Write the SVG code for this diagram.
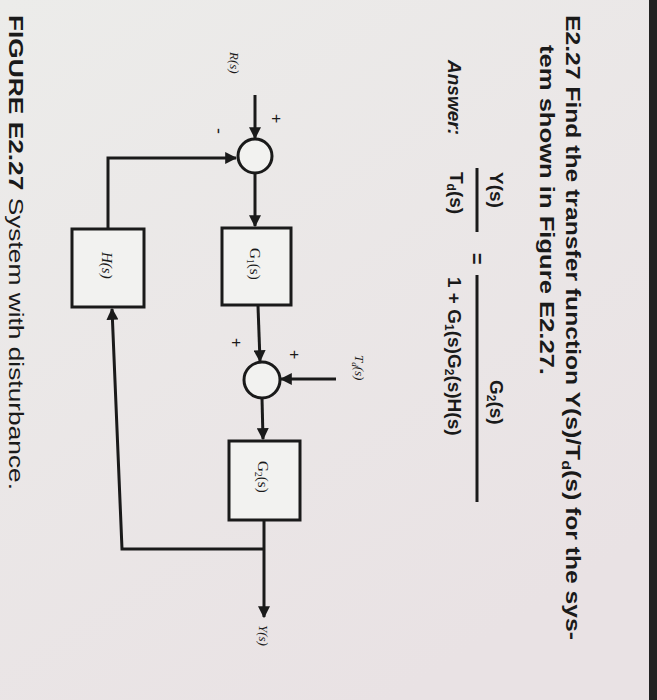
<svg xmlns="http://www.w3.org/2000/svg" width="657" height="700" viewBox="0 0 657 700">
<defs>
<style>
.t{font-family:"Liberation Sans",Arial,sans-serif;fill:#1a1a1a}
.s{font-family:"Liberation Serif","Times New Roman",serif;fill:#1a1a1a}
.ln{stroke:#1a1a1a;stroke-width:3;fill:none}
.bx{stroke:#1a1a1a;stroke-width:3;fill:#f2f2f0}
</style>
<marker id="a" viewBox="0 0 10 10" refX="9" refY="5" markerWidth="4" markerHeight="4" orient="auto"><path d="M0,0L10,5L0,10z" fill="#1a1a1a"/></marker>
<linearGradient id="bg" x1="0" y1="0" x2="0.6" y2="1"><stop offset="0" stop-color="#ececea"/><stop offset="1" stop-color="#e9e2e4"/></linearGradient>
</defs>
<rect width="657" height="700" fill="url(#bg)"/>
<rect x="649" y="0" width="8" height="700" fill="#222"/>
<g id="title">
<text class="t" font-weight="bold" font-size="20" transform="translate(566,15) rotate(90)" textLength="625" lengthAdjust="spacingAndGlyphs">E2.27  Find the transfer function Y(s)/T<tspan font-size="13" dy="4">d</tspan><tspan dy="-4">(s) for the sys-</tspan></text>
<text class="t" font-weight="bold" font-size="20" transform="translate(540,45) rotate(90)" textLength="330" lengthAdjust="spacingAndGlyphs">tem shown in Figure E2.27.</text>
</g>
<g id="answer">
<text class="t" font-weight="bold" font-style="italic" font-size="19" transform="translate(448,60) rotate(90)">Answer:</text>
<text class="t" font-weight="bold" font-size="19" transform="translate(490,172) rotate(90)">Y(s)</text>
<line class="ln" x1="477" y1="168" x2="477" y2="232" stroke-width="2"/>
<text class="t" font-weight="bold" font-size="19" transform="translate(450,172) rotate(90)">T<tspan font-size="12" dy="3">d</tspan><tspan dy="-3">(s)</tspan></text>
<text class="t" font-weight="bold" font-size="20" transform="translate(470,253) rotate(90)">=</text>
<text class="t" font-weight="bold" font-size="19" transform="translate(490,380) rotate(90)">G<tspan font-size="12" dy="3">2</tspan><tspan dy="-3">(s)</tspan></text>
<line class="ln" x1="477" y1="275" x2="477" y2="502" stroke-width="2"/>
<text class="t" font-weight="bold" font-size="19" transform="translate(448,277) rotate(90)">1 + G<tspan font-size="12" dy="3">1</tspan><tspan dy="-3">(s)G</tspan><tspan font-size="12" dy="3">2</tspan><tspan dy="-3">(s)H(s)</tspan></text>
</g>
<g id="connectors">
<line class="ln" x1="255" y1="95" x2="255" y2="138" marker-end="url(#a)"/>
<path class="ln" d="M108,228 L108,158 L236,158" marker-end="url(#a)"/>
<line class="ln" x1="255" y1="174" x2="255" y2="226" marker-end="url(#a)"/>
<line class="ln" x1="258" y1="306" x2="260" y2="361" marker-end="url(#a)"/>
<line class="ln" x1="336" y1="379" x2="281" y2="379" marker-end="url(#a)"/>
<line class="ln" x1="262" y1="398" x2="263" y2="439" marker-end="url(#a)"/>
<line class="ln" x1="264" y1="520" x2="264" y2="617" marker-end="url(#a)"/>
<path class="ln" d="M264,549 L122,549 L112,309" marker-end="url(#a)"/>
</g>
<g id="sum1"><circle class="bx" cx="255" cy="156" r="17"/>
<text class="t" font-size="16" transform="translate(271,114) rotate(90)">+</text>
<text class="t" font-size="18" transform="translate(213,128) rotate(90)">-</text></g>
<g id="G1"><rect class="bx" x="222" y="228" width="69" height="77"/>
<text class="s" font-size="15" transform="translate(250,248) rotate(90)">G<tspan font-size="10" dy="3">1</tspan><tspan dy="-3">(s)</tspan></text></g>
<g id="H"><rect class="bx" x="72" y="229" width="72" height="78"/>
<text class="s" font-style="italic" font-size="15" transform="translate(102,252) rotate(90)">H(s)</text></g>
<g id="sum2"><circle class="bx" cx="262" cy="380" r="18"/>
<text class="t" font-size="16" transform="translate(231,338) rotate(90)">+</text>
<text class="t" font-size="16" transform="translate(289,350) rotate(90)">+</text></g>
<g id="G2"><rect class="bx" x="229" y="441" width="71" height="79"/>
<text class="s" font-size="15" transform="translate(258,461) rotate(90)">G<tspan font-size="10" dy="3">2</tspan><tspan dy="-3">(s)</tspan></text></g>
<g id="labels">
<text class="s" font-style="italic" font-size="13" transform="translate(230,52) rotate(90)">R(s)</text>
<text class="s" font-style="italic" font-size="13" transform="translate(355,355) rotate(90)">T<tspan font-size="9" dy="3">d</tspan><tspan dy="-3">(s)</tspan></text>
<text class="s" font-style="italic" font-size="13" transform="translate(259,625) rotate(90)">Y(s)</text>
</g>
<g id="caption">
<text class="t" font-size="21" transform="translate(9,15) rotate(90)" textLength="475" lengthAdjust="spacingAndGlyphs"><tspan font-weight="bold">FIGURE E2.27</tspan>  System with disturbance.</text>
</g>
</svg>
